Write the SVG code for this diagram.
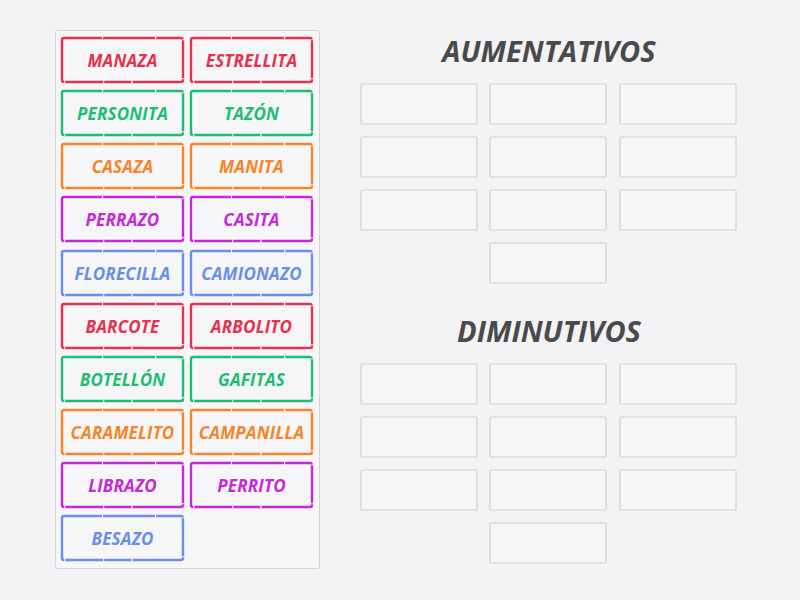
<svg xmlns="http://www.w3.org/2000/svg" width="800" height="600" viewBox="0 0 800 600">
<style>
.bg{fill:#f3f2f4}
.panel{fill:#f6f5f7;stroke:#d4d3d6;stroke-width:1}
.card rect{fill:#f6f5f7;stroke-width:2.4;stroke-dasharray:38 1 52 1.2 27 1}
.card text{font-family:"Open Sans","Lato",sans-serif;font-style:italic;font-weight:700;font-size:17px;letter-spacing:0.2px;text-anchor:middle}
.red rect{stroke:#e3334f}.red text{fill:#e3334f}
.green rect{stroke:#1fbd73}.green text{fill:#1fbd73}
.orange rect{stroke:#f6852a}.orange text{fill:#f6852a}
.purple rect{stroke:#c42bd6}.purple text{fill:#c42bd6}
.blue rect{stroke:#6b8fe6}.blue text{fill:#6b8fe6}
.slot{fill:#f6f5f7;stroke:#d2d1d4;stroke-width:1.2}
.head{font-family:"Open Sans","Lato",sans-serif;font-style:italic;font-weight:700;font-size:29px;fill:#4a4a4c;text-anchor:middle}
</style>
<rect class="bg" x="0" y="0" width="800" height="600"/>
<rect class="panel" x="55.5" y="30.5" width="264" height="538" rx="2"/>
<g id="cards">
<g id="manaza" class="card red"><rect x="62" y="38" width="121" height="44" rx="2"/><text x="122.5" y="67">MANAZA</text></g>
<g id="estrellita" class="card red"><rect x="191" y="38" width="121" height="44" rx="2"/><text x="251.5" y="67">ESTRELLITA</text></g>
<g id="personita" class="card green"><rect x="62" y="91" width="121" height="44" rx="2"/><text x="122.5" y="120">PERSONITA</text></g>
<g id="tazon" class="card green"><rect x="191" y="91" width="121" height="44" rx="2"/><text x="251.5" y="120">TAZÓN</text></g>
<g id="casaza" class="card orange"><rect x="62" y="144" width="121" height="44" rx="2"/><text x="122.5" y="173">CASAZA</text></g>
<g id="manita" class="card orange"><rect x="191" y="144" width="121" height="44" rx="2"/><text x="251.5" y="173">MANITA</text></g>
<g id="perrazo" class="card purple"><rect x="62" y="197" width="121" height="44" rx="2"/><text x="122.5" y="226">PERRAZO</text></g>
<g id="casita" class="card purple"><rect x="191" y="197" width="121" height="44" rx="2"/><text x="251.5" y="226">CASITA</text></g>
<g id="florecilla" class="card blue"><rect x="62" y="251" width="121" height="44" rx="2"/><text x="122.5" y="280">FLORECILLA</text></g>
<g id="camionazo" class="card blue"><rect x="191" y="251" width="121" height="44" rx="2"/><text x="251.5" y="280">CAMIONAZO</text></g>
<g id="barcote" class="card red"><rect x="62" y="304" width="121" height="44" rx="2"/><text x="122.5" y="333">BARCOTE</text></g>
<g id="arbolito" class="card red"><rect x="191" y="304" width="121" height="44" rx="2"/><text x="251.5" y="333">ARBOLITO</text></g>
<g id="botellon" class="card green"><rect x="62" y="357" width="121" height="44" rx="2"/><text x="122.5" y="386">BOTELLÓN</text></g>
<g id="gafitas" class="card green"><rect x="191" y="357" width="121" height="44" rx="2"/><text x="251.5" y="386">GAFITAS</text></g>
<g id="caramelito" class="card orange"><rect x="62" y="410" width="121" height="44" rx="2"/><text x="122.5" y="439">CARAMELITO</text></g>
<g id="campanilla" class="card orange"><rect x="191" y="410" width="121" height="44" rx="2"/><text x="251.5" y="439">CAMPANILLA</text></g>
<g id="librazo" class="card purple"><rect x="62" y="463" width="121" height="44" rx="2"/><text x="122.5" y="492">LIBRAZO</text></g>
<g id="perrito" class="card purple"><rect x="191" y="463" width="121" height="44" rx="2"/><text x="251.5" y="492">PERRITO</text></g>
<g id="besazo" class="card blue"><rect x="62" y="516" width="121" height="44" rx="2"/><text x="122.5" y="545">BESAZO</text></g>
</g>
<g id="aumentativos">
<text class="head" x="549" y="62">AUMENTATIVOS</text>
<rect class="slot" x="361" y="84" width="116" height="40" rx="1"/>
<rect class="slot" x="490" y="84" width="116" height="40" rx="1"/>
<rect class="slot" x="620" y="84" width="116" height="40" rx="1"/>
<rect class="slot" x="361" y="137" width="116" height="40" rx="1"/>
<rect class="slot" x="490" y="137" width="116" height="40" rx="1"/>
<rect class="slot" x="620" y="137" width="116" height="40" rx="1"/>
<rect class="slot" x="361" y="190" width="116" height="40" rx="1"/>
<rect class="slot" x="490" y="190" width="116" height="40" rx="1"/>
<rect class="slot" x="620" y="190" width="116" height="40" rx="1"/>
<rect class="slot" x="490" y="243" width="116" height="40" rx="1"/>
</g>
<g id="diminutivos">
<text class="head" x="549" y="342">DIMINUTIVOS</text>
<rect class="slot" x="361" y="364" width="116" height="40" rx="1"/>
<rect class="slot" x="490" y="364" width="116" height="40" rx="1"/>
<rect class="slot" x="620" y="364" width="116" height="40" rx="1"/>
<rect class="slot" x="361" y="417" width="116" height="40" rx="1"/>
<rect class="slot" x="490" y="417" width="116" height="40" rx="1"/>
<rect class="slot" x="620" y="417" width="116" height="40" rx="1"/>
<rect class="slot" x="361" y="470" width="116" height="40" rx="1"/>
<rect class="slot" x="490" y="470" width="116" height="40" rx="1"/>
<rect class="slot" x="620" y="470" width="116" height="40" rx="1"/>
<rect class="slot" x="490" y="523" width="116" height="40" rx="1"/>
</g>
</svg>
